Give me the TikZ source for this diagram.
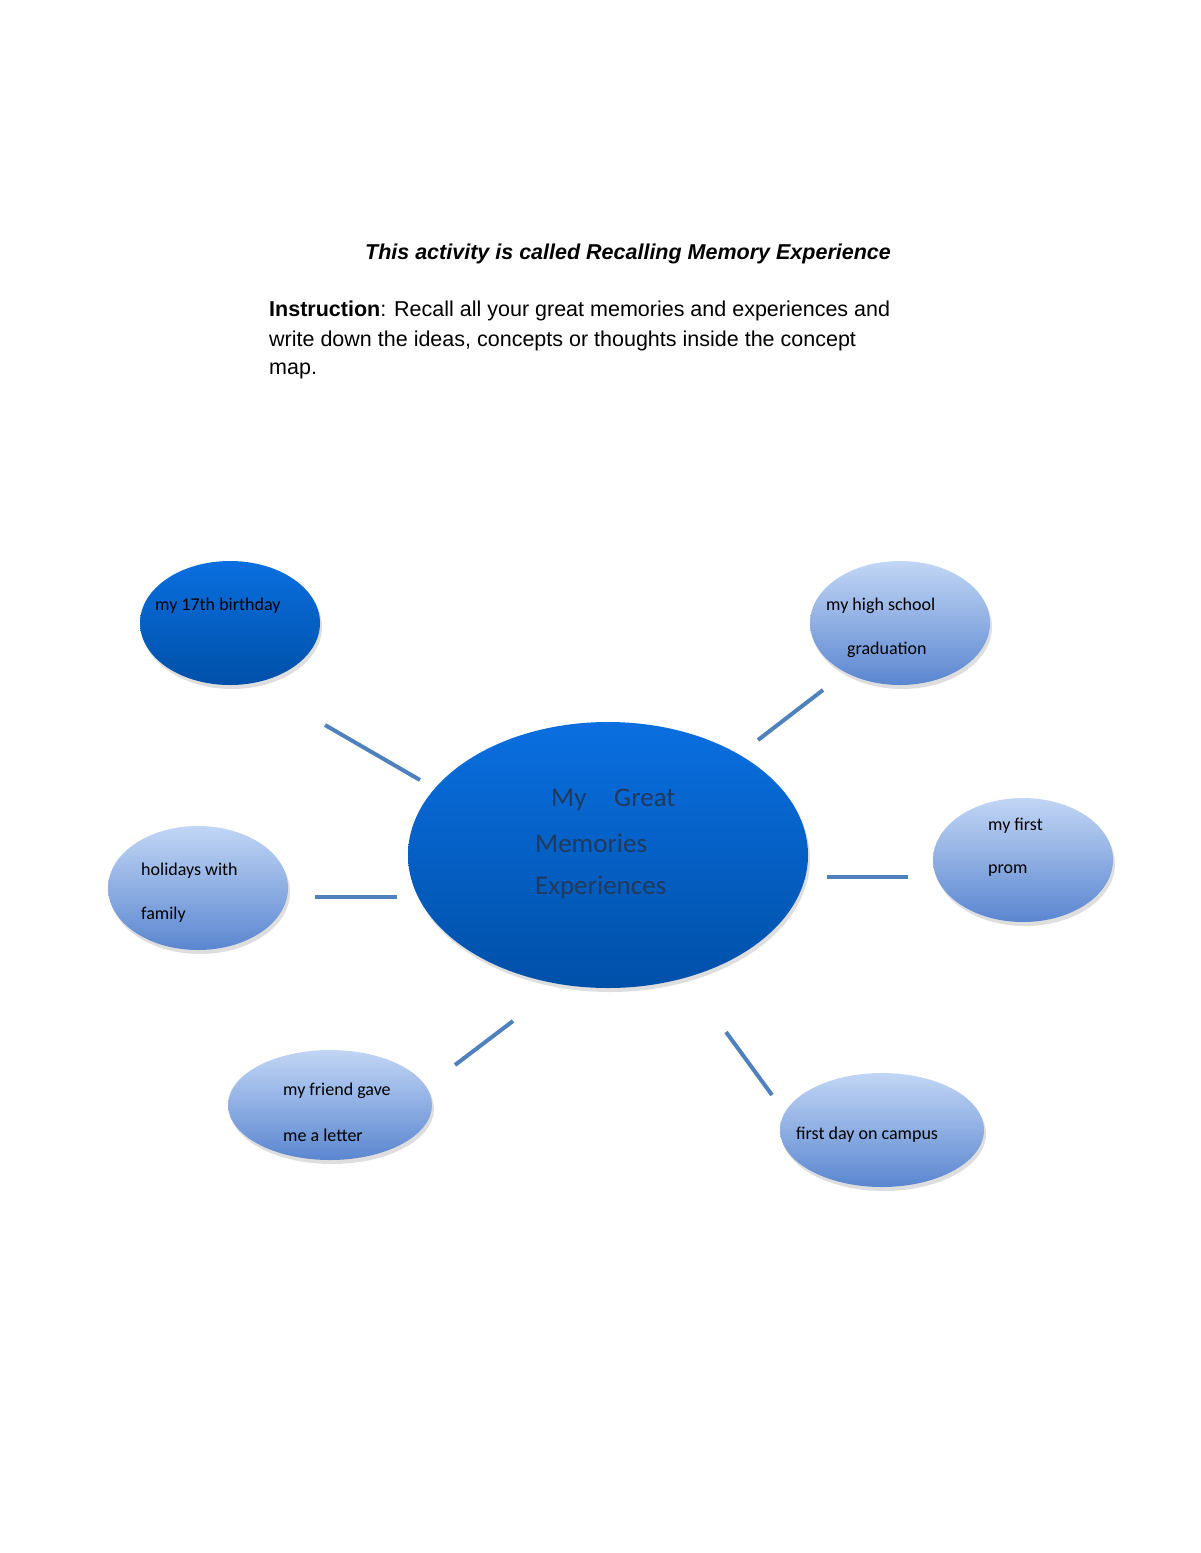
\documentclass[tikz,border=0pt]{standalone}
\usepackage{fontspec}
\setmainfont{Liberation Sans}
\newfontfamily\calfont{Carlito}
\usetikzlibrary{shapes.geometric,shadows}
\definecolor{lnk}{HTML}{4F81BD}
\definecolor{ctxt}{HTML}{1F3A5F}
\definecolor{dtop}{HTML}{0A6FE0}
\definecolor{dbot}{HTML}{0050A8}
\definecolor{ltop}{HTML}{C2D6F5}
\definecolor{lbot}{HTML}{5A86D0}
\tikzset{
  darkell/.style={ellipse,draw=none,top color=dtop,bottom color=dbot,
     drop shadow={shadow xshift=2pt,shadow yshift=-4pt,fill=black!25}},
  lightell/.style={ellipse,draw=none,top color=ltop,bottom color=lbot,
     drop shadow={shadow xshift=2pt,shadow yshift=-4pt,fill=black!25}},
  lab/.style={anchor=west,font=\calfont\fontsize{18}{20}\selectfont,text=black,inner sep=0pt},
  clab/.style={anchor=west,font=\calfont\fontsize{27}{30}\selectfont,text=ctxt,inner sep=0pt},
  link/.style={draw=lnk,line width=4pt},
  body/.style={anchor=west,font=\fontsize{21.5}{24}\selectfont,inner sep=0pt}
}
\begin{document}
\begin{tikzpicture}[x=1pt,y=-1pt]
\useasboundingbox[fill=white] (0,0) rectangle (1200,1553);
\node[font=\bfseries\itshape\fontsize{21.5}{24}\selectfont] (title) at (628,254) {This activity is called Recalling Memory Experience};
\node[body] (i1) at (269,311) {\textbf{Instruction}: Recall all your great memories and experiences and};
\node[body] (i2) at (269,341) {write down the ideas, concepts or thoughts inside the concept};
\node[body] (i3) at (269,371) {map.};

\node[darkell,minimum width=180pt,minimum height=124pt] (b) at (230,623) {};
\node[lightell,minimum width=180pt,minimum height=124pt] (h) at (900,623) {};
\node[darkell,minimum width=400pt,minimum height=266pt] (c) at (608,855) {};
\node[lightell,minimum width=180pt,minimum height=124pt] (p) at (1023,860) {};
\node[lightell,minimum width=180pt,minimum height=124pt] (f) at (198,888) {};
\node[lightell,minimum width=204pt,minimum height=110pt] (g) at (330,1105) {};
\node[lightell,minimum width=204pt,minimum height=114pt] (d) at (882,1130) {};

\node[lab] (tb) at (155,606) {my 17th birthday};
\node[lab] (th1) at (826,606) {my high school};
\node[lab] (th2) at (847,650) {graduation};
\node[clab] (tc1) at (551,800) {My\hspace{0.8em} Great};
\node[clab] (tc2) at (535,843) {Memories};
\node[clab] (tc3) at (535,887) {Experiences};
\node[lab] (tp1) at (988,826) {my first};
\node[lab] (tp2) at (988,871) {prom};
\node[lab] (tf1) at (141,871) {holidays with};
\node[lab] (tf2) at (141,915) {family};
\node[lab] (tg1) at (283,1091) {my friend gave};
\node[lab] (tg2) at (283,1135) {me a letter};
\node[lab] (td) at (796,1135) {first day on campus};

\coordinate (a1) at (325,725); \coordinate (a2) at (420,780);
\coordinate (b1) at (758,740); \coordinate (b2) at (823,690);
\coordinate (c1) at (315,897); \coordinate (c2) at (397,897);
\coordinate (d1) at (827,877); \coordinate (d2) at (908,877);
\coordinate (e1) at (455,1065); \coordinate (e2) at (513,1021);
\coordinate (f1) at (726,1032); \coordinate (f2) at (772,1095);
\draw[link] (a1) -- (a2);
\draw[link] (b1) -- (b2);
\draw[link] (c1) -- (c2);
\draw[link] (d1) -- (d2);
\draw[link] (e1) -- (e2);
\draw[link] (f1) -- (f2);
\end{tikzpicture}
\end{document}
